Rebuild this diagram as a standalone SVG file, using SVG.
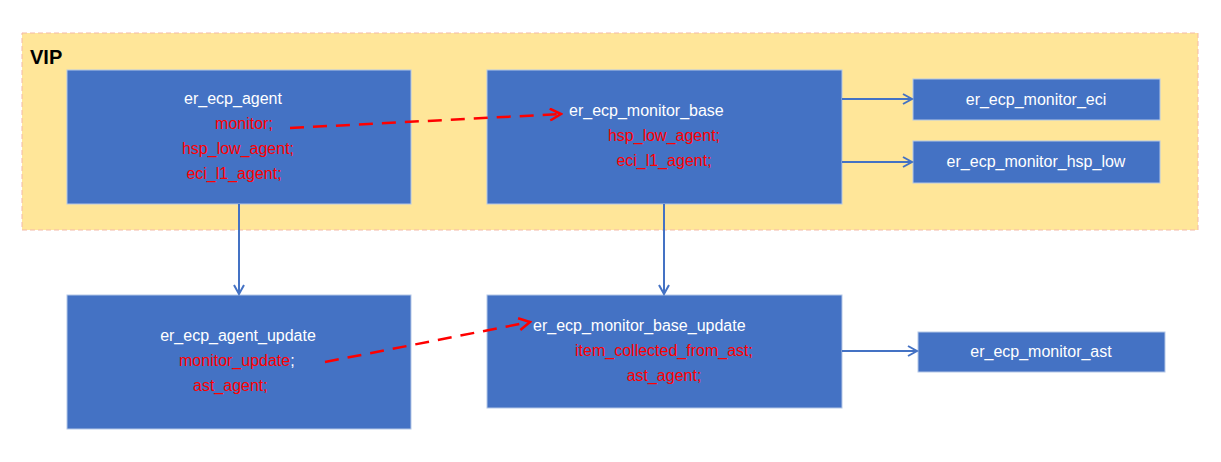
<svg xmlns="http://www.w3.org/2000/svg" width="1221" height="462" viewBox="0 0 1221 462">
<style>
text{font-family:"Liberation Sans",Arial,sans-serif;font-size:16px}
.w{fill:#fff}.r{fill:#f00}.m{text-anchor:middle}
.box{fill:#4472C4;stroke:#B4C7E7;stroke-width:1}
.c{stroke:#4472C4;stroke-width:2;fill:none}
.d{stroke:#f00;stroke-width:2.5;stroke-dasharray:14 9;fill:none}
</style>
<defs>
<marker id="ab" markerWidth="12" markerHeight="12" refX="10" refY="6" orient="auto" markerUnits="userSpaceOnUse"><path d="M1,1 L10,6 L1,11" fill="none" stroke="#4472C4" stroke-width="2"/></marker>
<marker id="ar" markerWidth="14" markerHeight="14" refX="12" refY="7" orient="auto" markerUnits="userSpaceOnUse"><path d="M1,1 L12,7 L1,13" fill="none" stroke="#f00" stroke-width="2.5"/></marker>
</defs>
<rect width="1221" height="462" fill="#fff"/>
<g id="vip"><rect x="22" y="33" width="1176" height="197" fill="#FFE699" stroke="#F4B9A8" stroke-dasharray="5 3"/><text x="30" y="64" style="font-weight:bold;font-size:20px">VIP</text></g>
<g id="agent"><rect class="box" x="67" y="70" width="344" height="134"/>
<text class="w m" x="233" y="104">er_ecp_agent</text>
<text class="r m" x="244" y="129">monitor;</text>
<text class="r m" x="238" y="154">hsp_low_agent;</text>
<text class="r m" x="234" y="179">eci_l1_agent;</text></g>
<g id="monbase"><rect class="box" x="487" y="70" width="355" height="134"/>
<text class="w" x="569" y="116">er_ecp_monitor_base</text>
<text class="r m" x="664" y="141">hsp_low_agent;</text>
<text class="r m" x="664" y="166">eci_l1_agent;</text></g>
<g id="eci"><rect class="box" x="913" y="79" width="247" height="41"/><text class="w m" x="1036" y="105">er_ecp_monitor_eci</text></g>
<g id="hsp"><rect class="box" x="913" y="141" width="247" height="42"/><text class="w m" x="1036" y="167">er_ecp_monitor_hsp_low</text></g>
<g id="agentupd"><rect class="box" x="67" y="295" width="344" height="134"/>
<text class="w m" x="238" y="341">er_ecp_agent_update</text>
<text x="179" y="366"><tspan class="r">monitor_update</tspan><tspan class="w">;</tspan></text>
<text class="r" x="193" y="391">ast_agent;</text></g>
<g id="monbaseupd"><rect class="box" x="487" y="295" width="355" height="113"/>
<text class="w" x="533" y="331">er_ecp_monitor_base_update</text>
<text class="r m" x="664" y="356">item_collected_from_ast;</text>
<text class="r m" x="664" y="381">ast_agent;</text></g>
<g id="ast"><rect class="box" x="918" y="332" width="247" height="40"/><text class="w m" x="1041" y="357">er_ecp_monitor_ast</text></g>
<g id="connectors">
<path class="c" d="M842,99 H912" marker-end="url(#ab)"/>
<path class="c" d="M842,162 H912" marker-end="url(#ab)"/>
<path class="c" d="M239,204 V294" marker-end="url(#ab)"/>
<path class="c" d="M664,204 V294" marker-end="url(#ab)"/>
<path class="c" d="M842,351 H917" marker-end="url(#ab)"/>
<path class="d" d="M290,128 L561,114" marker-end="url(#ar)"/>
<path class="d" d="M325,362 L530,322" marker-end="url(#ar)"/>
</g>
</svg>
